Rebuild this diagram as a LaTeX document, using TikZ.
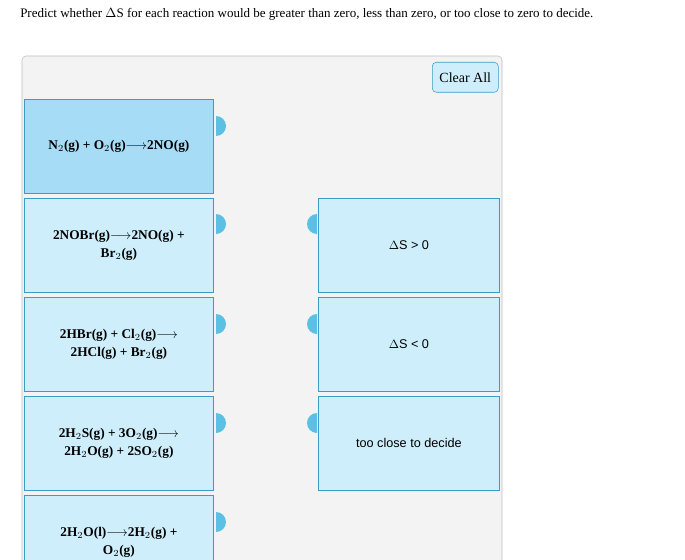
\documentclass[tikz,border=0pt]{standalone}
\usepackage{fontspec}
\setmainfont{Liberation Serif}
\newfontfamily\sansf{Liberation Sans}
\begin{document}
\begin{tikzpicture}[x=0.75pt,y=-0.75pt,
  src/.style={draw=boxline,fill=boxfill,line width=0.6pt,minimum width=141.75pt,minimum height=70.5pt,inner sep=0pt,align=center,font=\bfseries\fontsize{10}{13}\selectfont,anchor=north west},
  dst/.style={draw=boxline,fill=boxfill,line width=0.6pt,minimum width=135.75pt,minimum height=70.5pt,inner sep=0pt,align=center,font=\sansf\fontsize{9.5}{12}\selectfont,anchor=north west},
  tab/.style={fill=tabc}]
\definecolor{boxline}{HTML}{3A9CC7}
\definecolor{boxfill}{HTML}{CDEEFA}
\definecolor{boxdark}{HTML}{A6DCF5}
\definecolor{tabc}{HTML}{5BC0E3}
\definecolor{panel}{HTML}{F3F3F3}
\useasboundingbox (0,0) rectangle (685,560);
\clip (0,0) rectangle (685,560);
\node[anchor=west,font=\fontsize{9.75}{12}\selectfont,inner sep=0pt] (title) at (20,14) {Predict whether $\Delta$S for each reaction would be greater than zero, less than zero, or too close to zero to decide.};
\draw[draw=black!25,fill=panel,rounded corners=3pt] (22,56) rectangle (502,600);
\node[draw=boxline,fill=boxfill,rounded corners=3pt,minimum width=49.5pt,minimum height=22.5pt,inner sep=0pt,font=\fontsize{10.5}{12}\selectfont,anchor=north west] (clear) at (432,62) {Clear All};
\node[src,fill=boxdark] (r1) at (24,99) {N$_2$(g) + O$_2$(g)$\longrightarrow$2NO(g)};
\node[src] (r2) at (24,198) {2NOBr(g)$\longrightarrow$2NO(g) +\\Br$_2$(g)};
\node[src] (r3) at (24,297) {2HBr(g) + Cl$_2$(g)$\longrightarrow$\\2HCl(g) + Br$_2$(g)};
\node[src] (r4) at (24,396) {2H$_2$S(g) + 3O$_2$(g)$\longrightarrow$\\2H$_2$O(g) + 2SO$_2$(g)};
\node[src] (r5) at (24,495) {2H$_2$O(l)$\longrightarrow$2H$_2$(g) +\\O$_2$(g)};
\node[dst] (d1) at (318,198) {$\Delta$S > 0};
\node[dst] (d2) at (318,297) {$\Delta$S < 0};
\node[dst] (d3) at (318,396) {too close to decide};
\foreach \y in {146,244,344,443,542} \fill[tabc] (216,\y-10) arc (90:-90:10) -- cycle;
\foreach \y in {244,344,443} \fill[tabc] (317,\y-10) arc (90:270:10) -- cycle;
\end{tikzpicture}
\end{document}
